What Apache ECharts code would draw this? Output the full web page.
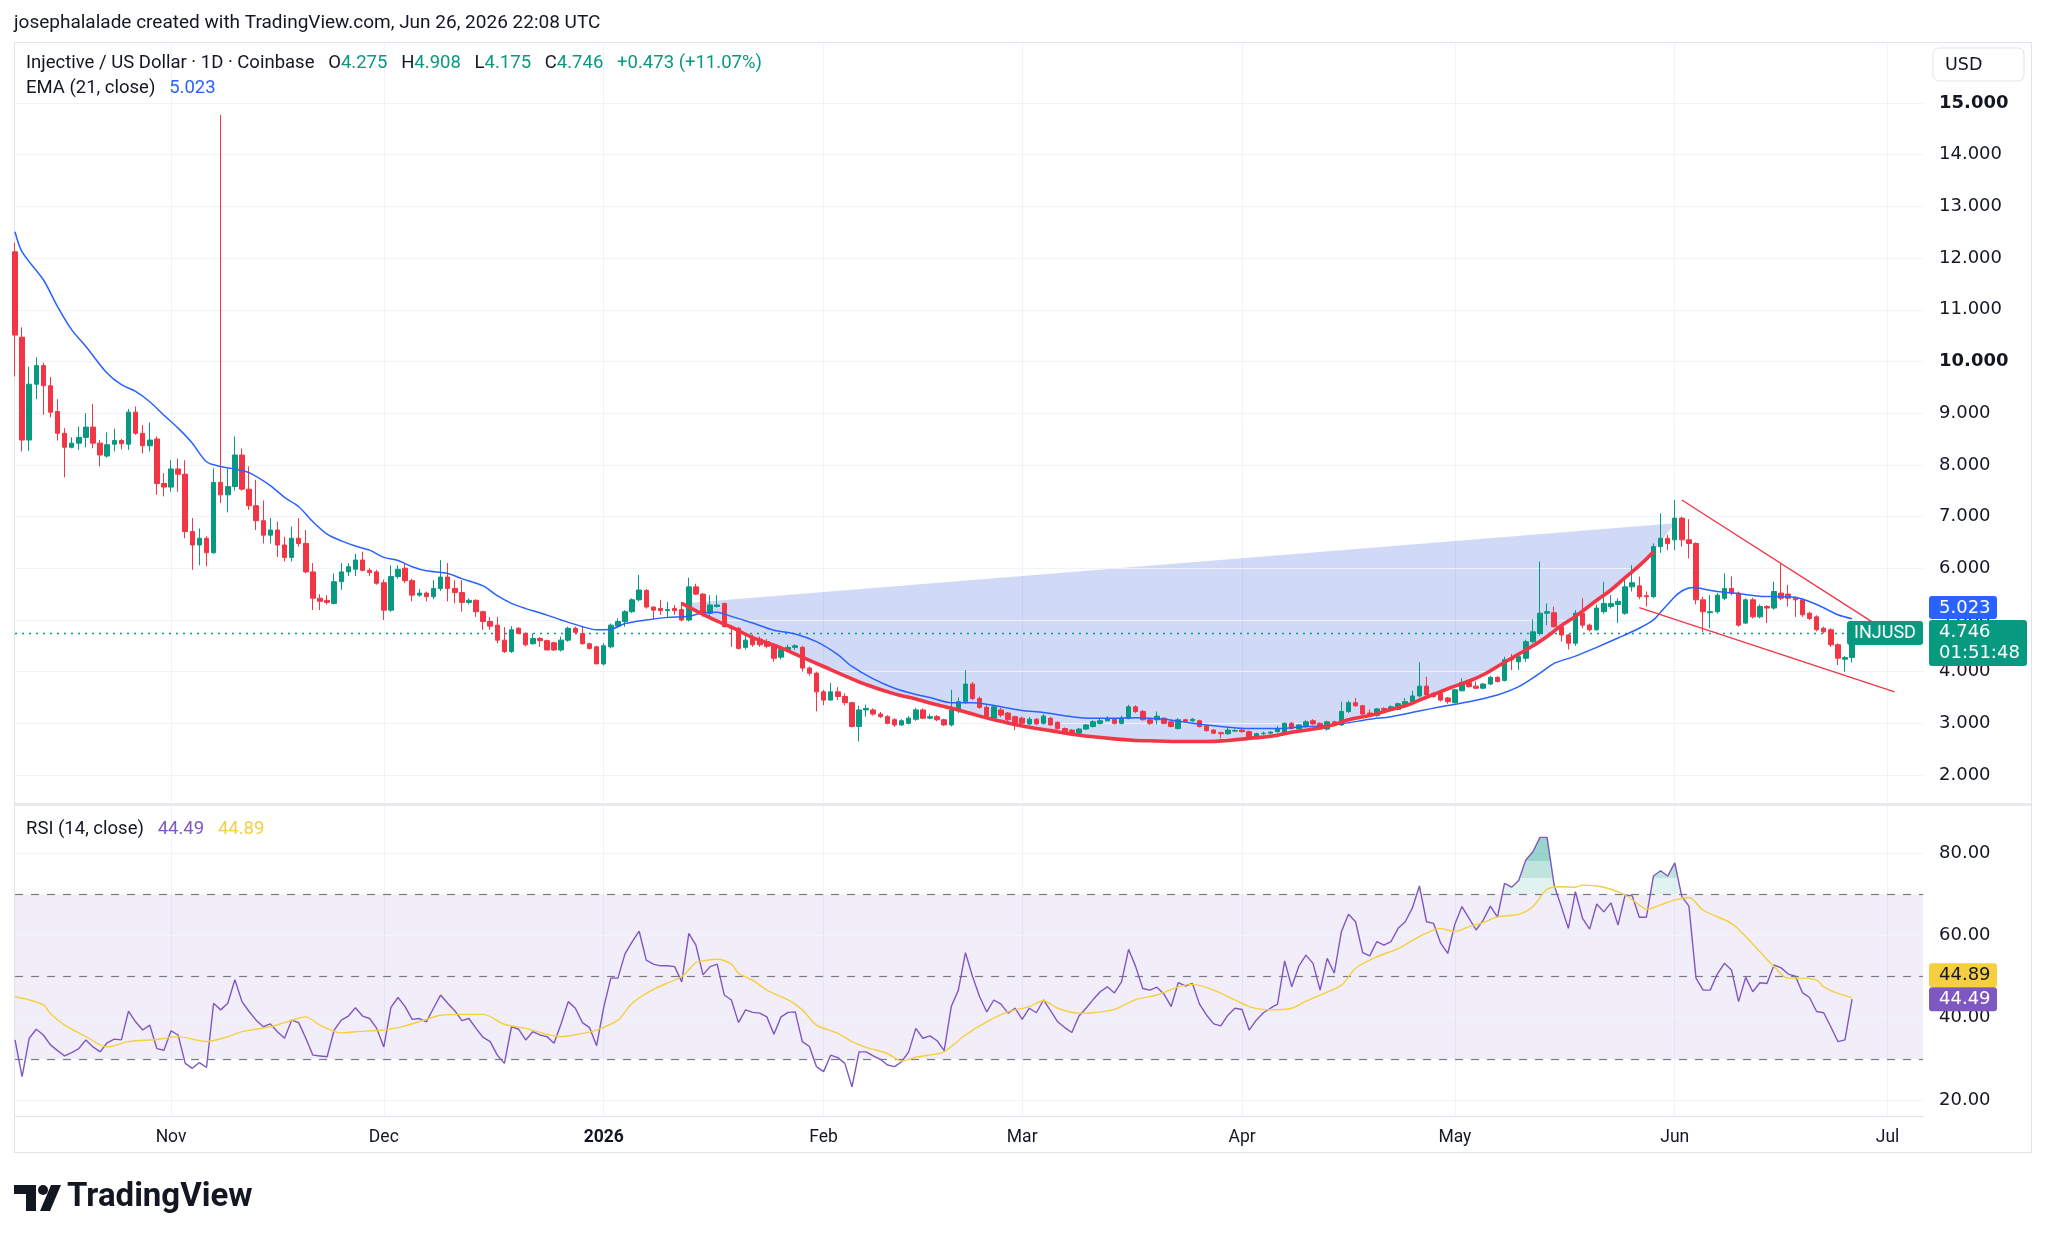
<!DOCTYPE html>
<html lang="en">
<head>
<meta charset="utf-8">
<title>INJUSD 1D</title>
<script src="https://cdn.jsdelivr.net/npm/echarts@6.0.0/dist/echarts.min.js"></script>
<style>
html, body { margin: 0; padding: 0; background: #ffffff; }
#chart { width: 2048px; height: 1244px; }
</style>
</head>
<body>
<div id="chart"></div>
<script>
'use strict';

// calendar: Oct 10 2025 .. Jul 6 2026, candles stop on Jun 26
const START_DATE = Date.UTC(2025, 9, 10);
const DAY_COUNT = 270;

const monthTicks = ['2025-11-01', '2025-12-01', '2026-01-01', '2026-02-01', '2026-03-01', '2026-04-01', '2026-05-01', '2026-06-01', '2026-07-01'];
const monthNames = ['Nov', 'Dec', '2026', 'Feb', 'Mar', 'Apr', 'May', 'Jun', 'Jul'];
const priceTicks = [2, 3, 4, 5, 6, 7, 8, 9, 10, 11, 12, 13, 14, 15];
const boldPriceTicks = [10, 15];
const rsiTicks = [20, 40, 60, 80];
const rsiLevels = [30, 50, 70];

// daily candles [open, close, low, high]
const candles = [
    [12.12, 10.51, 9.71, 12.30], [10.47, 8.48, 8.26, 10.66], [8.48, 9.56, 8.27, 9.90], [9.56, 9.92, 9.27, 10.08], [9.92, 9.53, 8.97, 9.98],
    [9.53, 9.02, 8.92, 9.70], [9.03, 8.61, 8.47, 9.27], [8.61, 8.34, 7.76, 8.71], [8.34, 8.42, 8.32, 8.53], [8.42, 8.53, 8.29, 8.74],
    [8.53, 8.73, 8.34, 9.00], [8.73, 8.42, 8.32, 9.18], [8.42, 8.19, 7.97, 8.48], [8.17, 8.39, 8.14, 8.63], [8.40, 8.47, 8.26, 8.70],
    [8.47, 8.41, 8.30, 8.50], [8.40, 9.02, 8.29, 9.08], [9.02, 8.61, 8.58, 9.13], [8.61, 8.37, 8.22, 8.77], [8.37, 8.48, 8.26, 8.82],
    [8.50, 7.64, 7.42, 8.55], [7.64, 7.57, 7.39, 7.84], [7.57, 7.92, 7.48, 8.09], [7.92, 7.82, 7.48, 8.12], [7.82, 6.71, 6.58, 8.09],
    [6.71, 6.45, 5.97, 6.97], [6.45, 6.58, 6.06, 6.77], [6.58, 6.30, 6.04, 6.62], [6.30, 7.66, 6.28, 7.93], [7.66, 7.42, 7.26, 14.77],
    [7.42, 7.58, 7.08, 7.93], [7.58, 8.19, 7.50, 8.55], [8.19, 7.53, 7.50, 8.32], [7.53, 7.21, 7.13, 7.97], [7.21, 6.92, 6.74, 7.71],
    [6.92, 6.64, 6.48, 7.31], [6.64, 6.74, 6.48, 6.97], [6.74, 6.45, 6.22, 6.90], [6.45, 6.21, 6.13, 6.61], [6.21, 6.58, 6.13, 6.81],
    [6.58, 6.48, 6.42, 6.97], [6.48, 5.93, 5.90, 6.74], [5.93, 5.42, 5.19, 6.10], [5.42, 5.36, 5.19, 5.50], [5.38, 5.34, 5.30, 5.48],
    [5.32, 5.74, 5.30, 5.90], [5.74, 5.93, 5.58, 6.10], [5.93, 6.03, 5.85, 6.10], [5.98, 6.16, 5.85, 6.28], [6.16, 5.96, 5.94, 6.32],
    [5.96, 5.92, 5.85, 6.00], [5.93, 5.71, 5.68, 5.97], [5.72, 5.19, 5.00, 5.78], [5.19, 5.84, 5.16, 6.06], [5.84, 5.98, 5.80, 6.06],
    [6.00, 5.76, 5.71, 6.09], [5.76, 5.48, 5.36, 5.80], [5.48, 5.52, 5.45, 5.60], [5.52, 5.45, 5.36, 5.55], [5.45, 5.61, 5.40, 5.77],
    [5.61, 5.83, 5.56, 6.16], [5.83, 5.61, 5.36, 6.10], [5.61, 5.53, 5.32, 5.77], [5.53, 5.34, 5.16, 5.77], [5.34, 5.38, 5.30, 5.42],
    [5.38, 5.16, 5.06, 5.40], [5.16, 4.97, 4.81, 5.18], [4.97, 4.88, 4.81, 5.06], [4.90, 4.61, 4.55, 5.06], [4.61, 4.39, 4.36, 4.86],
    [4.39, 4.81, 4.36, 4.88], [4.84, 4.74, 4.72, 4.86], [4.74, 4.52, 4.49, 4.76], [4.54, 4.64, 4.52, 4.74], [4.64, 4.60, 4.48, 4.67],
    [4.60, 4.42, 4.42, 4.62], [4.56, 4.42, 4.40, 4.58], [4.42, 4.61, 4.39, 4.68], [4.61, 4.84, 4.58, 4.87], [4.84, 4.76, 4.72, 4.87],
    [4.74, 4.54, 4.52, 4.88], [4.54, 4.45, 4.43, 4.56], [4.48, 4.15, 4.15, 4.50], [4.15, 4.50, 4.12, 4.55], [4.48, 4.90, 4.45, 4.93],
    [4.88, 4.97, 4.84, 5.03], [4.97, 5.16, 4.87, 5.19], [5.16, 5.39, 5.13, 5.42], [5.39, 5.58, 5.36, 5.87], [5.57, 5.25, 5.22, 5.60],
    [5.25, 5.19, 5.00, 5.26], [5.22, 5.18, 5.10, 5.39], [5.18, 5.20, 5.05, 5.35], [5.22, 5.18, 5.10, 5.29], [5.20, 5.00, 4.97, 5.35],
    [5.00, 5.64, 4.97, 5.82], [5.64, 5.50, 5.48, 5.70], [5.50, 5.13, 5.06, 5.52], [5.13, 5.29, 5.06, 5.48], [5.26, 5.29, 5.24, 5.48],
    [5.32, 4.87, 4.86, 5.33], [4.87, 4.84, 4.48, 4.90], [4.84, 4.45, 4.43, 4.86], [4.47, 4.61, 4.43, 4.70], [4.65, 4.52, 4.48, 4.72],
    [4.63, 4.52, 4.48, 4.68], [4.58, 4.49, 4.45, 4.63], [4.52, 4.26, 4.19, 4.54], [4.28, 4.43, 4.24, 4.46], [4.43, 4.47, 4.40, 4.52],
    [4.47, 4.50, 4.42, 4.53], [4.47, 4.07, 4.00, 4.50], [4.07, 3.97, 3.92, 4.10], [3.97, 3.61, 3.23, 4.00], [3.61, 3.45, 3.35, 3.65],
    [3.45, 3.61, 3.45, 3.78], [3.61, 3.52, 3.45, 3.70], [3.52, 3.40, 3.35, 3.58], [3.40, 2.94, 2.92, 3.42], [2.94, 3.26, 2.65, 3.34],
    [3.26, 3.29, 3.13, 3.36], [3.26, 3.18, 3.15, 3.29], [3.18, 3.13, 3.10, 3.22], [3.13, 3.00, 2.98, 3.16], [3.07, 2.97, 2.93, 3.10],
    [2.97, 3.05, 2.95, 3.08], [3.00, 3.10, 2.98, 3.14], [3.08, 3.26, 3.05, 3.30], [3.26, 3.10, 3.08, 3.29], [3.10, 3.13, 3.08, 3.18],
    [3.13, 3.07, 3.04, 3.16], [3.07, 2.97, 2.95, 3.09], [2.97, 3.26, 2.94, 3.65], [3.26, 3.42, 3.20, 3.50], [3.42, 3.76, 3.38, 4.03],
    [3.76, 3.48, 3.45, 3.80], [3.48, 3.31, 3.28, 3.52], [3.31, 3.13, 3.10, 3.35], [3.10, 3.32, 3.08, 3.36], [3.26, 3.16, 3.12, 3.30],
    [3.20, 3.07, 3.03, 3.22], [3.13, 3.00, 2.87, 3.15], [3.10, 3.00, 2.98, 3.13], [2.99, 3.08, 2.96, 3.12], [3.08, 2.99, 2.97, 3.10],
    [3.00, 3.14, 2.98, 3.18], [3.10, 2.97, 2.95, 3.12], [3.02, 2.90, 2.88, 3.04], [2.90, 2.84, 2.82, 2.92], [2.87, 2.81, 2.79, 2.89],
    [2.81, 2.89, 2.80, 2.91], [2.89, 2.97, 2.87, 2.99], [2.94, 3.03, 2.92, 3.06], [3.00, 3.05, 2.98, 3.10], [3.05, 3.09, 3.04, 3.14],
    [3.08, 3.00, 2.98, 3.10], [3.00, 3.10, 2.98, 3.15], [3.10, 3.32, 3.08, 3.36], [3.32, 3.23, 3.20, 3.35], [3.23, 3.07, 3.05, 3.26],
    [3.07, 3.00, 2.97, 3.10], [3.07, 3.14, 2.98, 3.23], [3.10, 3.00, 2.98, 3.12], [3.03, 2.94, 2.92, 3.05], [2.90, 3.07, 2.88, 3.10],
    [3.07, 3.04, 3.02, 3.09], [3.05, 3.08, 3.03, 3.10], [3.05, 2.94, 2.92, 3.07], [2.95, 2.86, 2.84, 2.97], [2.87, 2.81, 2.79, 2.89],
    [2.82, 2.80, 2.71, 2.84], [2.80, 2.87, 2.78, 2.92], [2.85, 2.86, 2.84, 2.89], [2.87, 2.84, 2.82, 2.92], [2.84, 2.73, 2.71, 2.86],
    [2.73, 2.80, 2.71, 2.82], [2.80, 2.81, 2.78, 2.84], [2.81, 2.83, 2.80, 2.85], [2.84, 2.90, 2.82, 2.95], [2.83, 3.00, 2.80, 3.02],
    [3.00, 2.90, 2.88, 3.03], [2.89, 2.97, 2.87, 2.99], [2.94, 3.03, 2.92, 3.06], [3.05, 2.99, 2.97, 3.08], [3.00, 2.89, 2.87, 3.02],
    [2.89, 3.03, 2.86, 3.05], [3.03, 2.96, 2.94, 3.05], [2.97, 3.23, 2.95, 3.42], [3.23, 3.40, 3.20, 3.44], [3.40, 3.34, 3.32, 3.49],
    [3.34, 3.18, 3.16, 3.36], [3.20, 3.16, 3.14, 3.27], [3.15, 3.28, 3.13, 3.30], [3.29, 3.27, 3.25, 3.31], [3.27, 3.32, 3.25, 3.35],
    [3.27, 3.38, 3.25, 3.40], [3.36, 3.42, 3.34, 3.49], [3.42, 3.53, 3.40, 3.63], [3.53, 3.72, 3.50, 4.18], [3.72, 3.55, 3.52, 3.90],
    [3.58, 3.52, 3.50, 3.60], [3.58, 3.45, 3.42, 3.60], [3.49, 3.42, 3.38, 3.51], [3.40, 3.65, 3.38, 3.67], [3.63, 3.79, 3.62, 3.87],
    [3.79, 3.71, 3.69, 3.81], [3.72, 3.68, 3.66, 3.81], [3.68, 3.76, 3.66, 3.78], [3.76, 3.89, 3.74, 3.92], [3.89, 3.81, 3.79, 3.91],
    [3.83, 4.23, 3.81, 4.29], [4.26, 4.23, 4.03, 4.34], [4.19, 4.29, 4.03, 4.31], [4.26, 4.58, 4.19, 4.62], [4.58, 4.77, 4.55, 5.01],
    [4.74, 5.13, 4.70, 6.13], [5.13, 5.16, 4.90, 5.32], [5.14, 4.87, 4.85, 5.26], [4.87, 4.71, 4.58, 4.90], [4.71, 4.55, 4.43, 4.73],
    [4.55, 5.13, 4.50, 5.19], [5.13, 4.90, 4.84, 5.42], [4.90, 4.81, 4.78, 4.93], [4.81, 5.23, 4.79, 5.30], [5.16, 5.32, 5.12, 5.74],
    [5.26, 5.32, 5.22, 5.48], [5.30, 5.36, 4.94, 5.42], [5.13, 5.64, 5.10, 5.84], [5.64, 5.72, 5.55, 6.06], [5.66, 5.45, 5.40, 5.84],
    [5.47, 5.45, 5.26, 5.55], [5.45, 6.42, 5.42, 6.48], [6.42, 6.58, 6.30, 7.06], [6.58, 6.48, 6.35, 6.65], [6.55, 6.97, 6.35, 7.32],
    [6.97, 6.55, 6.42, 7.00], [6.55, 6.48, 6.19, 6.95], [6.48, 5.39, 5.30, 6.50], [5.39, 5.16, 4.77, 5.45], [5.14, 5.16, 4.84, 5.48],
    [5.16, 5.48, 5.12, 5.52], [5.42, 5.61, 5.38, 5.90], [5.61, 5.52, 5.48, 5.84], [5.52, 4.90, 4.87, 5.55], [4.94, 5.39, 4.92, 5.42],
    [5.39, 5.06, 5.03, 5.43], [5.06, 5.26, 5.03, 5.30], [5.26, 5.23, 4.94, 5.29], [5.23, 5.55, 5.20, 5.74], [5.52, 5.42, 5.38, 6.10],
    [5.50, 5.42, 5.26, 5.68], [5.42, 5.39, 5.06, 5.45], [5.39, 5.10, 5.06, 5.42], [5.13, 5.03, 5.00, 5.16], [5.06, 4.81, 4.78, 5.09],
    [4.84, 4.77, 4.74, 4.87], [4.81, 4.52, 4.48, 4.84], [4.52, 4.26, 4.13, 4.55], [4.24, 4.273, 4.00, 4.30], [4.275, 4.746, 4.175, 4.908]
];

// EMA(21), [day index, value]
const emaPoints = [
    [0, 12.51], [1, 12.12], [4, 11.58], [6, 11.06], [8, 10.61], [10, 10.29], [13, 9.77], [15, 9.55], [17, 9.42], [19, 9.22],
    [21, 8.96], [23, 8.71], [25, 8.42], [27, 8.06], [29, 7.97], [31, 7.92], [33, 7.85], [36, 7.60], [38, 7.37], [40, 7.19],
    [42, 6.90], [44, 6.66], [46, 6.53], [48, 6.43], [50, 6.35], [52, 6.21], [54, 6.15], [56, 6.03], [58, 5.95], [61, 5.90],
    [63, 5.80], [66, 5.66], [68, 5.47], [70, 5.32], [72, 5.22], [74, 5.14], [77, 5.00], [80, 4.87], [82, 4.81], [84, 4.82],
    [86, 4.93], [89, 5.00], [92, 5.05], [95, 5.07], [97, 5.14], [99, 5.15], [101, 5.07], [104, 4.94], [107, 4.80], [110, 4.73],
    [113, 4.58], [116, 4.33], [118, 4.10], [121, 3.86], [124, 3.68], [127, 3.56], [129, 3.50], [132, 3.40], [135, 3.40], [137, 3.37],
    [139, 3.32], [142, 3.25], [145, 3.21], [149, 3.13], [152, 3.10], [155, 3.10], [158, 3.11], [162, 3.08], [166, 3.00], [170, 2.94],
    [174, 2.90], [178, 2.90], [181, 2.93], [184, 2.95], [187, 2.99], [191, 3.08], [194, 3.13], [198, 3.24], [201, 3.32], [205, 3.42],
    [209, 3.55], [212, 3.71], [215, 3.97], [217, 4.16], [220, 4.30], [223, 4.47], [226, 4.65], [229, 4.84], [231, 5.00], [232, 5.15],
    [233, 5.30], [234, 5.45], [235, 5.56], [236, 5.62], [237, 5.63], [238, 5.60], [240, 5.55], [243, 5.51], [246, 5.46], [249, 5.45],
    [251, 5.44], [254, 5.30], [257, 5.10], [259, 5.023]
];

// RSI(14), one value per candle
const rsiValues = [
    34.6, 25.7, 35.0, 37.2, 35.8, 33.4, 32.0, 30.7, 31.5, 32.5,
    34.6, 32.9, 31.7, 33.9, 34.8, 34.6, 41.6, 39.0, 37.0, 38.2,
    32.5, 32.1, 36.8, 35.8, 28.9, 27.7, 29.1, 27.9, 43.5, 41.9,
    43.5, 49.2, 43.9, 41.5, 39.4, 37.8, 38.5, 36.6, 35.0, 39.4,
    38.8, 35.0, 30.9, 30.7, 30.5, 37.0, 39.4, 40.4, 42.4, 40.4,
    39.8, 37.4, 32.9, 42.5, 44.9, 42.7, 39.6, 39.8, 39.0, 42.3,
    45.5, 43.5, 41.7, 39.3, 39.8, 37.4, 35.2, 34.2, 30.9, 28.9,
    37.8, 37.2, 34.6, 36.6, 35.8, 35.4, 33.8, 38.6, 43.9, 42.3,
    38.8, 37.6, 33.2, 42.5, 49.6, 49.6, 55.5, 58.4, 61.0, 54.0,
    53.0, 52.6, 52.6, 52.4, 48.7, 60.5, 57.6, 50.4, 52.4, 53.0,
    45.5, 44.3, 38.8, 41.9, 41.3, 41.1, 40.2, 36.0, 40.2, 41.3,
    41.4, 34.2, 33.0, 28.1, 26.9, 30.9, 30.3, 28.9, 23.2, 31.7,
    31.7, 30.7, 29.9, 28.5, 28.1, 29.3, 31.7, 37.4, 35.0, 35.6,
    34.4, 32.0, 42.7, 46.7, 55.8, 50.0, 45.1, 41.4, 44.3, 43.3,
    41.1, 42.3, 39.6, 42.3, 41.2, 44.3, 41.7, 39.0, 37.6, 36.4,
    40.4, 42.3, 44.4, 46.3, 47.5, 46.0, 48.7, 56.6, 52.4, 47.1,
    46.7, 47.4, 45.7, 42.7, 48.5, 47.7, 48.3, 43.3, 40.6, 38.5,
    38.0, 40.6, 42.3, 42.0, 37.0, 39.4, 41.2, 42.3, 43.3, 53.8,
    47.5, 52.5, 55.2, 53.2, 46.7, 54.4, 50.8, 60.9, 65.1, 63.3,
    55.8, 55.0, 58.5, 57.6, 58.5, 61.7, 63.3, 66.6, 72.0, 63.3,
    62.9, 58.1, 55.6, 62.7, 67.0, 64.1, 61.3, 63.7, 67.1, 64.4,
    72.6, 71.7, 73.3, 78.3, 80.3, 83.8, 83.8, 72.2, 67.0, 61.7,
    70.6, 64.1, 61.5, 67.6, 65.7, 67.9, 62.5, 69.8, 69.6, 64.4,
    64.4, 74.4, 75.7, 74.4, 77.6, 69.4, 67.1, 49.6, 46.7, 46.7,
    50.6, 53.2, 51.6, 43.9, 49.8, 46.3, 48.5, 48.3, 52.8, 52.1,
    50.6, 50.1, 46.1, 44.9, 41.5, 41.2, 37.8, 34.2, 34.6, 44.49
];

// RSI-based MA, [day index, value]
const rsiMaPoints = [
    [0, 45.1], [2, 44.3], [4, 43.1], [5, 41.0], [7, 38.2], [10, 35.4], [13, 32.9], [16, 34.2], [20, 34.7], [23, 35.4],
    [27, 34.2], [30, 35.4], [32, 36.6], [36, 37.8], [38, 38.8], [41, 40.2], [43, 38.2], [46, 36.3], [48, 36.6], [52, 37.0],
    [55, 38.0], [58, 39.6], [60, 40.6], [63, 40.8], [66, 40.8], [69, 38.4], [72, 37.4], [77, 35.4], [80, 36.2], [82, 37.0],
    [85, 39.4], [87, 43.5], [90, 46.9], [94, 50.0], [96, 53.4], [97, 53.8], [99, 54.2], [101, 53.0], [102, 50.8], [104, 49.1],
    [106, 46.7], [109, 44.3], [111, 41.9], [113, 38.2], [116, 36.2], [118, 34.2], [120, 32.8], [123, 31.3], [125, 29.5], [127, 30.4],
    [130, 31.2], [131, 31.7], [134, 35.8], [137, 39.0], [140, 41.4], [143, 42.7], [145, 44.1], [147, 42.3], [150, 41.1], [152, 41.2],
    [155, 42.0], [158, 44.4], [161, 45.5], [164, 47.5], [166, 48.1], [169, 46.7], [172, 44.3], [174, 42.7], [177, 41.9], [180, 42.3],
    [182, 44.0], [184, 45.5], [187, 47.9], [189, 52.0], [192, 54.8], [195, 56.8], [198, 59.7], [201, 61.7], [203, 60.9], [205, 62.1],
    [207, 63.1], [209, 64.5], [212, 65.1], [214, 67.0], [216, 71.2], [218, 71.8], [220, 71.7], [221, 72.2], [223, 72.0], [225, 71.2],
    [227, 69.8], [229, 67.4], [230, 66.3], [232, 67.4], [234, 68.6], [236, 69.2], [238, 66.1], [242, 62.9], [244, 59.7], [246, 56.0],
    [248, 52.4], [250, 49.6], [252, 49.6], [254, 49.1], [255, 47.5], [257, 45.9], [259, 44.89]
];

// drawings: rounded-bottom curve with its filled chord, falling wedge
const cupPoints = [
    [94, 5.32], [98, 5.04], [101, 4.86], [104, 4.66], [108, 4.46], [111, 4.28], [114, 4.10], [117, 3.92], [120, 3.75], [124, 3.57],
    [127, 3.47], [130, 3.36], [133, 3.26], [136, 3.14], [139, 3.04], [142, 2.95], [146, 2.86], [149, 2.79], [152, 2.74], [155, 2.70],
    [158, 2.67], [161, 2.66], [164, 2.65], [168, 2.65], [171, 2.67], [174, 2.71], [177, 2.75], [180, 2.83], [183, 2.89], [186, 2.98],
    [188, 3.07], [191, 3.15], [193, 3.23], [196, 3.34], [198, 3.45], [200, 3.56], [202, 3.67], [205, 3.82], [207, 3.94], [209, 4.10],
    [212, 4.34], [214, 4.50], [216, 4.68], [218, 4.89], [220, 5.07], [223, 5.38], [225, 5.58], [227, 5.82], [229, 6.05], [231, 6.32]
];
const cupTopRight = [234, 6.87];
const wedgeUpper = [[235, 7.32], [262, 4.95]];
const wedgeLower = [[229, 5.24], [265, 3.61]];

const lastPrice = 4.746;
const lastEma = 5.023;
const lastRsi = 44.49;
const lastRsiMa = 44.89;

const UP = '#089981';
const DOWN = '#F23645';
const EMA_BLUE = '#2962FF';
const RSI_PURPLE = '#7E57C2';
const RSI_YELLOW = '#F5CF3F';
const TEXT = '#131722';
const GRIDLINE = '#F0F3FA';
const UI_FONT = 'Roboto, "Noto Sans", sans-serif';
const AXIS_FONT = '"DejaVu Sans", Verdana, sans-serif';

const dates = [];
for (let k = 0; k < DAY_COUNT; k++) {
    dates.push(new Date(START_DATE + k * 86400000).toISOString().slice(0, 10));
}
const isMonthStart = (idx) => monthTicks.indexOf(dates[idx]) >= 0;

function priceLabel(v) {
    const r = Math.round(v);
    if (Math.abs(v - r) > 1e-6 || priceTicks.indexOf(r) < 0) return '';
    return boldPriceTicks.indexOf(r) >= 0 ? '{b|' + r.toFixed(3) + '}' : r.toFixed(3);
}

function rsiLabel(v) {
    const r = Math.round(v);
    if (Math.abs(v - r) > 1e-6 || rsiTicks.indexOf(r) < 0) return '';
    return r.toFixed(2);
}

function monthLabel(value) {
    const k = monthTicks.indexOf(value);
    if (k < 0) return '';
    return monthNames[k] === '2026' ? '{b|2026}' : monthNames[k];
}

const baseXAxis = {
    type: 'category',
    data: dates,
    boundaryGap: false,
    axisTick: { show: false },
    splitLine: { show: true, interval: isMonthStart, lineStyle: { color: GRIDLINE, width: 1 } }
};

const option = {
    animation: false,
    backgroundColor: '#ffffff',
    textStyle: { fontFamily: UI_FONT },
    grid: [
        { left: 15, right: 125, top: 43.5, height: 760 },
        { left: 15, right: 125, top: 803.6, height: 312.9 }
    ],
    xAxis: [
        Object.assign({}, baseXAxis, {
            gridIndex: 0,
            axisLine: { show: false },
            axisLabel: { show: false }
        }),
        Object.assign({}, baseXAxis, {
            gridIndex: 1,
            axisLine: { show: true, lineStyle: { color: '#E0E3EB' } },
            axisLabel: {
                interval: isMonthStart,
                formatter: monthLabel,
                margin: 12,
                color: TEXT,
                fontSize: 17.5,
                fontFamily: UI_FONT,
                rich: { b: { fontWeight: 'bold', fontSize: 17.5, color: TEXT, fontFamily: UI_FONT } }
            }
        })
    ],
    yAxis: [
        {
            gridIndex: 0, type: 'value', position: 'right',
            min: 1.45, max: 16.15, interval: 0.05,
            axisLine: { show: false }, axisTick: { show: false }, splitLine: { show: false },
            axisLabel: {
                formatter: priceLabel, margin: 16, color: TEXT, fontSize: 18, fontFamily: AXIS_FONT,
                rich: { b: { fontWeight: 'bold', fontSize: 18, color: TEXT, fontFamily: AXIS_FONT } }
            }
        },
        {
            gridIndex: 1, type: 'value', position: 'right',
            min: 16, max: 92, interval: 4,
            axisLine: { show: false }, axisTick: { show: false }, splitLine: { show: false },
            axisLabel: { formatter: rsiLabel, margin: 16, color: TEXT, fontSize: 18, fontFamily: AXIS_FONT }
        }
    ],
    visualMap: [{
        type: 'piecewise', show: false, seriesIndex: 7, dimension: 1,
        pieces: [
            { gt: 78, color: 'rgba(8,153,129,0.42)' },
            { gt: 74, lte: 78, color: 'rgba(8,153,129,0.26)' },
            { gt: 70, lte: 74, color: 'rgba(8,153,129,0.12)' },
            { lte: 70, color: 'rgba(8,153,129,0)' }
        ]
    }],
    series: [
        {
            name: 'cup fill', type: 'custom', xAxisIndex: 0, yAxisIndex: 0, z: 1, silent: true,
            data: [cupTopRight],
            encode: { x: 0, y: 1 },
            renderItem: (params, api) => ({
                type: 'polygon',
                shape: { points: cupPoints.concat([cupTopRight]).map((p) => api.coord(p)) },
                style: { fill: 'rgba(40,86,220,0.22)' }
            })
        },
        {
            name: 'INJUSD', type: 'candlestick', xAxisIndex: 0, yAxisIndex: 0, z: 3,
            barWidth: 5,
            data: candles,
            itemStyle: { color: UP, color0: DOWN, borderColor: UP, borderColor0: DOWN, borderWidth: 1 },
            markLine: {
                silent: true, symbol: 'none', z: 1.5,
                label: { show: false },
                data: priceTicks.map((v) => ({ yAxis: v, lineStyle: { color: GRIDLINE, type: 'solid', width: 1 } }))
                    .concat([{ yAxis: lastPrice, lineStyle: { color: UP, type: [2, 5], width: 1.3 } }])
            }
        },
        {
            name: 'EMA 21', type: 'line', xAxisIndex: 0, yAxisIndex: 0, z: 4,
            data: emaPoints, symbol: 'none', smooth: 0.3,
            lineStyle: { color: EMA_BLUE, width: 1.5 }
        },
        {
            name: 'cup', type: 'line', xAxisIndex: 0, yAxisIndex: 0, z: 5,
            data: cupPoints, symbol: 'none', smooth: 0.5,
            lineStyle: { color: DOWN, width: 3.6 }
        },
        {
            name: 'wedge upper', type: 'line', xAxisIndex: 0, yAxisIndex: 0, z: 5,
            data: wedgeUpper, symbol: 'none',
            lineStyle: { color: DOWN, width: 1.4 }
        },
        {
            name: 'wedge lower', type: 'line', xAxisIndex: 0, yAxisIndex: 0, z: 5,
            data: wedgeLower, symbol: 'none',
            lineStyle: { color: DOWN, width: 1.4 }
        },
        {
            name: 'RSI', type: 'line', xAxisIndex: 1, yAxisIndex: 1, z: 4,
            data: rsiValues, symbol: 'none',
            lineStyle: { color: RSI_PURPLE, width: 1.4 },
            markArea: {
                silent: true,
                itemStyle: { color: 'rgba(126,87,194,0.1)' },
                data: [[{ yAxis: rsiLevels[0] }, { yAxis: rsiLevels[2] }]]
            },
            markLine: {
                silent: true, symbol: 'none', z: 1.5,
                label: { show: false },
                data: rsiTicks.map((v) => ({ yAxis: v, lineStyle: { color: GRIDLINE, type: 'solid', width: 1 } }))
                    .concat(rsiLevels.map((v) => ({ yAxis: v, lineStyle: { color: '#787B86', type: [8, 8], width: 1.2 } })))
            }
        },
        {
            name: 'RSI overbought', type: 'line', xAxisIndex: 1, yAxisIndex: 1, z: 3,
            data: rsiValues, symbol: 'none', silent: true,
            lineStyle: { width: 0 },
            areaStyle: { origin: 70, opacity: 1 }
        },
        {
            name: 'RSI MA', type: 'line', xAxisIndex: 1, yAxisIndex: 1, z: 5,
            data: rsiMaPoints, symbol: 'none', smooth: 0.3,
            lineStyle: { color: RSI_YELLOW, width: 1.4 }
        }
    ]
};

const chart = echarts.init(document.getElementById('chart'));
chart.setOption(option);

const LEGEND_SIZE = 18.5;

function textEl(id, x, y, text, extra) {
    return {
        id: id, type: 'text', x: x, y: y, z: 100, silent: true,
        style: Object.assign({ text: text, fill: TEXT, fontSize: LEGEND_SIZE, fontFamily: UI_FONT, verticalAlign: 'middle' }, extra || {})
    };
}

function tagEl(id, x, y, w, h, fill, lines, color, font, align) {
    const els = [{
        id: id + '-bg', type: 'rect', z: 100, silent: true,
        shape: { x: x, y: y, width: w, height: h, r: 3 },
        style: { fill: fill }
    }];
    lines.forEach((t, k) => {
        els.push({
            id: id + '-t' + k, type: 'text', z: 101, silent: true,
            x: align === 'center' ? x + w / 2 : x + 10,
            y: y + 12 + k * 21,
            style: { text: t, fill: color, fontSize: 18, fontFamily: font, verticalAlign: 'middle', align: align || 'left' }
        });
    });
    return els;
}

function buildOverlay() {
    const right = chart.convertToPixel({ xAxisIndex: 0 }, dates[DAY_COUNT - 1]);
    const yPrice = chart.convertToPixel({ yAxisIndex: 0 }, lastPrice);
    const yRsi = chart.convertToPixel({ yAxisIndex: 1 }, lastRsi);
    const x0 = right + 6;
    const tok = (fill) => ({ fill: fill, fontSize: LEGEND_SIZE, fontFamily: UI_FONT });

    let els = [
        { id: 'frame', type: 'rect', z: 0, silent: true,
          shape: { x: 14.5, y: 42.5, width: 2017, height: 1110 },
          style: { fill: 'none', stroke: '#E0E3EB', lineWidth: 1 } },
        { id: 'pane-sep', type: 'rect', z: 50, silent: true,
          shape: { x: 15, y: 803, width: 2016, height: 3 },
          style: { fill: '#E8EAF0' } },
        { id: 'usd-box', type: 'rect', z: 100, silent: true,
          shape: { x: 1933, y: 48, width: 91, height: 33, r: 6 },
          style: { fill: '#ffffff', stroke: '#E0E3EB', lineWidth: 1 } },
        textEl('usd', 1945, 65, 'USD', { fontSize: 17.5, fontFamily: AXIS_FONT }),
        textEl('header', 14, 23, 'josephalalade created with TradingView.com, Jun 26, 2026 22:08 UTC', { fontSize: 19 }),
        textEl('legend', 26, 63,
            '{t|Injective / US Dollar · 1D · Coinbase}   {t|O}{g|4.275}   {t|H}{g|4.908}   {t|L}{g|4.175}   {t|C}{g|4.746}   {g|+0.473 (+11.07%)}',
            { rich: { t: tok(TEXT), g: tok(UP) } }),
        textEl('ema-legend', 26, 88, '{t|EMA (21, close)}   {b|' + lastEma.toFixed(3) + '}',
            { rich: { t: tok(TEXT), b: tok(EMA_BLUE) } }),
        textEl('rsi-legend', 26, 829,
            '{t|RSI (14, close)}   {p|' + lastRsi.toFixed(2) + '}   {y|' + lastRsiMa.toFixed(2) + '}',
            { rich: { t: tok(TEXT), p: tok(RSI_PURPLE), y: tok(RSI_YELLOW) } }),
        // TradingView mark
        { id: 'logo-bar', type: 'rect', z: 100, silent: true, shape: { x: 14, y: 1185, width: 22, height: 9 }, style: { fill: TEXT } },
        { id: 'logo-stem', type: 'rect', z: 100, silent: true, shape: { x: 26, y: 1185, width: 10, height: 26 }, style: { fill: TEXT } },
        { id: 'logo-dot', type: 'circle', z: 100, silent: true, shape: { cx: 43, cy: 1190, r: 5 }, style: { fill: TEXT } },
        { id: 'logo-v', type: 'polygon', z: 100, silent: true,
          shape: { points: [[40, 1211], [50, 1211], [61, 1185], [51, 1185]] }, style: { fill: TEXT } },
        textEl('logo-text', 67, 1198, 'TradingView', { fontSize: 33, fontWeight: 'bold', fill: TEXT })
    ];

    els = els
        .concat(tagEl('ema-tag', x0, yPrice - 13 - 24, 68, 23, EMA_BLUE, [lastEma.toFixed(3)], '#ffffff', AXIS_FONT))
        .concat(tagEl('price-tag', x0, yPrice - 13, 98, 46, UP, [lastPrice.toFixed(3), '01:51:48'], '#ffffff', AXIS_FONT))
        .concat(tagEl('sym-tag', right - 76, yPrice - 12, 76, 24, UP, ['INJUSD'], '#ffffff', UI_FONT, 'center'))
        .concat(tagEl('rsima-tag', x0, yRsi - 12 - 24, 68, 24, RSI_YELLOW, [lastRsiMa.toFixed(2)], TEXT, AXIS_FONT))
        .concat(tagEl('rsi-tag', x0, yRsi - 12, 68, 24, RSI_PURPLE, [lastRsi.toFixed(2)], '#ffffff', AXIS_FONT));

    chart.setOption({ graphic: els });
}

buildOverlay();
</script>
</body>
</html>
